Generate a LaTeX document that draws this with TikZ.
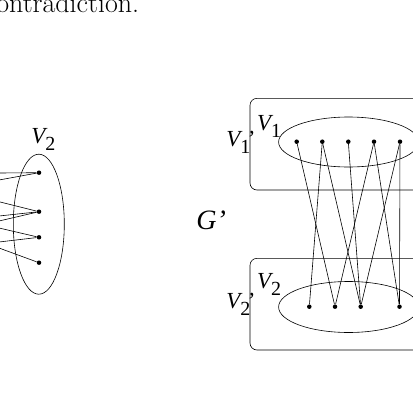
\documentclass[tikz,border=0pt]{standalone}
\usepackage{fontspec}
\newfontfamily\timesfont{Liberation Serif}
\newcommand\vlab[2]{{\timesfont\fontsize{23}{23}\selectfont\itshape V\raisebox{-7pt}{\upshape\fontsize{20}{20}\selectfont #1}\kern-4pt#2}}
\begin{document}
\begin{tikzpicture}[x=1pt,y=-1pt,line width=0.6pt,
  dot/.style={circle,fill,inner sep=0pt,minimum size=4.5pt},
  lab/.style={anchor=base west,inner sep=0pt}]
\useasboundingbox (0,0) rectangle (413,413);
\clip (0,0) rectangle (413,413);
\node[lab,font=\fontsize{28}{28}\selectfont] (txt) at (-4,12.3) {ontradiction.};
% left part
\draw (38.8,224.2) ellipse [x radius=25.5pt, y radius=70pt];
\foreach \n/\y in {1/172.7,2/211.7,3/237.3,4/262.7}
\node[dot] (p\n) at (39,\y) {};
\node[lab] (lv2) at (31,143) {\vlab{2}{}};
\foreach \n/\y in {1/173,2/180,3/201.7,4/216,5/221,6/228,7/242,8/248}
\coordinate (l\n) at (-1,\y);
\foreach \a/\b in {1/1,2/1,3/2,4/2,5/2,6/3,7/3,8/4}
\draw (l\a) -- (p\b);
% right part
\node[lab] (gp) at (196,229) {\timesfont\fontsize{28}{28}\selectfont\itshape G’};
\draw[rounded corners=7pt] (250,98.3) rectangle (440,190);
\draw[rounded corners=7pt] (250,258.3) rectangle (440,350);
\draw (348.6,142) ellipse [x radius=70pt, y radius=25pt];
\draw (348.6,307) ellipse [x radius=70pt, y radius=25.5pt];
\foreach \n/\x in {1/296.7,2/322.3,3/348.3,4/374,5/400}
\node[dot] (t\n) at (\x,141.7) {};
\foreach \n/\x in {1/309.3,2/335,3/360.7,4/399.5}
\node[dot] (b\n) at (\x,306.7) {};
\foreach \a/\b in {1/2,2/1,2/3,3/3,4/2,4/4,5/3,5/4}
\draw (t\a) -- (b\b);
\node[lab] (v1) at (256.7,130) {\vlab{1}{}};
\node[lab] (v1p) at (226,146) {\vlab{1}{’}};
\node[lab] (v2) at (256.7,288) {\vlab{2}{}};
\node[lab] (v2p) at (226,308) {\vlab{2}{’}};
\end{tikzpicture}
\end{document}
